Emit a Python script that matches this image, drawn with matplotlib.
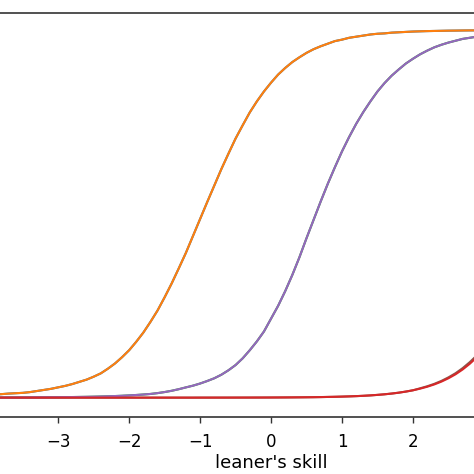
import matplotlib
matplotlib.use("Agg")
import matplotlib.pyplot as plt

# learner's skill grid
skill = [-3.9, -3.8, -3.7, -3.6, -3.5, -3.4, -3.3, -3.2, -3.1, -3.0,
         -2.9, -2.8, -2.7, -2.6, -2.5, -2.4, -2.3, -2.2, -2.1, -2.0,
         -1.9, -1.8, -1.7, -1.6, -1.5, -1.4, -1.3, -1.2, -1.1, -1.0,
         -0.9, -0.8, -0.7, -0.6, -0.5, -0.4, -0.3, -0.2, -0.1, 0.0,
         0.1, 0.2, 0.3, 0.4, 0.5, 0.6, 0.7, 0.8, 0.9, 1.0,
         1.1, 1.2, 1.3, 1.4, 1.5, 1.6, 1.7, 1.8, 1.9, 2.0,
         2.1, 2.2, 2.3, 2.4, 2.5, 2.6, 2.7, 2.8, 2.9]

# easy item (blue / orange, nearly overlapping)
easy_prob = [0.0085, 0.0095, 0.011, 0.012, 0.013, 0.015, 0.018, 0.021, 0.024, 0.028,
             0.032, 0.037, 0.043, 0.049, 0.057, 0.066, 0.0787, 0.0929, 0.110, 0.129,
             0.152, 0.177, 0.206, 0.237, 0.273, 0.311, 0.352, 0.394, 0.440, 0.486,
             0.532, 0.577, 0.622, 0.664, 0.705, 0.741, 0.776, 0.806, 0.833, 0.857,
             0.879, 0.897, 0.913, 0.926, 0.938, 0.948, 0.956, 0.963, 0.970, 0.974,
             0.979, 0.982, 0.985, 0.988, 0.990, 0.991, 0.993, 0.994, 0.995, 0.996,
             0.9966, 0.9972, 0.9976, 0.998, 0.9984, 0.9986, 0.9989, 0.9991, 0.9992]

# medium item (green / purple)
medium_prob = [0.0002, 0.0003, 0.0004, 0.0005, 0.0006, 0.0007, 0.0008, 0.0009, 0.0010, 0.0012,
               0.0014, 0.0016, 0.0019, 0.0022, 0.0026, 0.0031, 0.0037, 0.0043, 0.0051, 0.0061,
               0.0072, 0.0085, 0.010, 0.0123, 0.0152, 0.0187, 0.0230, 0.0279, 0.0326, 0.0384,
               0.0452, 0.0527, 0.0624, 0.0745, 0.0887, 0.107, 0.129, 0.153, 0.180, 0.215,
               0.250, 0.290, 0.334, 0.382, 0.434, 0.484, 0.534, 0.582, 0.627, 0.670,
               0.709, 0.745, 0.777, 0.806, 0.833, 0.856, 0.876, 0.893, 0.909, 0.922,
               0.934, 0.944, 0.953, 0.960, 0.966, 0.971, 0.976, 0.979, 0.982]

# hard item (red / brown)
hard_prob_red = [0.0, 0.0, 0.0, 0.0, 0.0, 0.0, 0.0, 0.0, 0.0, 0.0,
                 0.0, 0.0, 0.0, 0.0, 0.0, 0.0, 0.0, 0.0, 0.0, 0.0,
                 0.0, 0.0, 0.0, 0.0, 0.0, 0.0, 0.0, 0.0, 0.0, 0.00005,
                 0.00006, 0.00008, 0.00009, 0.00011, 0.00014, 0.00017, 0.0002, 0.00025, 0.0003, 0.00037,
                 0.00046, 0.00056, 0.00068, 0.00083, 0.0010, 0.0012, 0.0015, 0.0019, 0.0023, 0.0028,
                 0.0034, 0.0041, 0.0050, 0.0061, 0.0075, 0.0091, 0.0111, 0.0135, 0.0165, 0.0200,
                 0.0244, 0.0296, 0.0359, 0.0435, 0.0527, 0.0635, 0.0766, 0.0920, 0.1100]
hard_prob_brown = [0.0, 0.0, 0.0, 0.0, 0.0, 0.0, 0.0, 0.0, 0.0, 0.0,
                   0.0, 0.0, 0.0, 0.0, 0.0, 0.0, 0.0, 0.0, 0.0, 0.0,
                   0.0, 0.0, 0.0, 0.0, 0.0, 0.0, 0.0, 0.0, 0.0, 0.00005,
                   0.00006, 0.00008, 0.00009, 0.00011, 0.00014, 0.00017, 0.0002, 0.00025, 0.0003, 0.00037,
                   0.00046, 0.00056, 0.00068, 0.00083, 0.0010, 0.0012, 0.0015, 0.0019, 0.0023, 0.0028,
                   0.0034, 0.0041, 0.0050, 0.0061, 0.0075, 0.0091, 0.0111, 0.0135, 0.0165, 0.0200,
                   0.0254, 0.0309, 0.0375, 0.0455, 0.0552, 0.0665, 0.0803, 0.0965, 0.1150]

series = [
    (easy_prob, "tab:blue"),
    (easy_prob, "tab:orange"),
    (medium_prob, "tab:green"),
    (hard_prob_brown, "tab:brown"),
    (medium_prob, "tab:purple"),
    (hard_prob_red, "tab:red"),
]

fig = plt.figure(figsize=(4.74, 4.74), dpi=100)
ax = fig.add_axes([0.0, 0.12, 1.0, 0.853])

for values, color in series:
    ax.plot(skill, values, color=color, linewidth=1.5)

ax.set_xlim(-3.82, 2.86)
ax.set_ylim(-0.053, 1.047)
ax.set_xticks([-3, -2, -1, 0, 1, 2])
ax.set_yticks([])
ax.tick_params(axis="x", labelsize=12, length=4.5, width=1.0, pad=7, color="#333333")
ax.spines["left"].set_visible(False)
ax.spines["right"].set_visible(False)
for side in ("top", "bottom"):
    ax.spines[side].set_linewidth(1.2)
    ax.spines[side].set_color("#333333")

ax.set_xlabel("leaner's skill", fontsize=13)
ax.xaxis.set_label_coords(3.82 / 6.68, -0.092)

fig.savefig("out.png", dpi=100)
